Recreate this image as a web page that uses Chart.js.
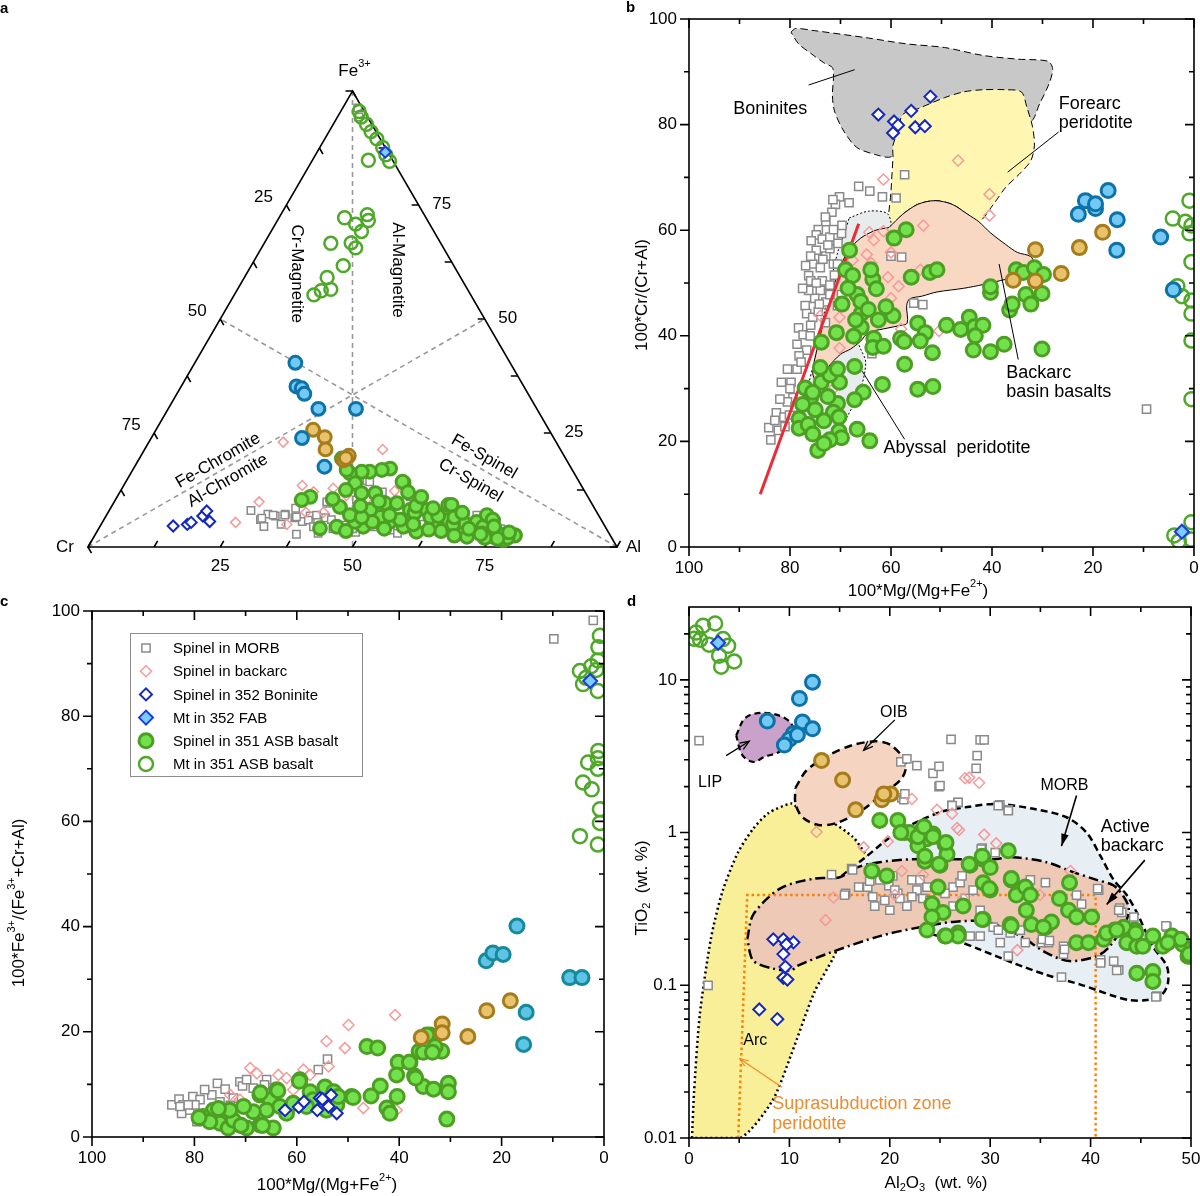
<!DOCTYPE html>
<html><head><meta charset="utf-8">
<script src="https://cdn.jsdelivr.net/npm/chart.js@4.4.1/dist/chart.umd.min.js"></script>
<style>
html,body{margin:0;padding:0;background:#fff;}
body{width:1200px;height:1196px;position:relative;overflow:hidden;font-family:'Liberation Sans',Arial,sans-serif;}
canvas{position:absolute;}
.pl{position:absolute;font-weight:bold;font-size:15px;line-height:15px;z-index:10;}
</style></head><body>
<canvas id="ca" width="660" height="600" style="left:0;top:0;z-index:1"></canvas>
<canvas id="cb" width="626" height="610" style="left:600px;top:-10px;z-index:2"></canvas>
<canvas id="cc" width="636" height="616" style="left:0;top:580px;z-index:3"></canvas>
<canvas id="cd" width="620" height="618" style="left:610px;top:578px;z-index:4"></canvas>
<div class="pl" style="left:0px;top:0px">a</div>
<div class="pl" style="left:626px;top:-1px">b</div>
<div class="pl" style="left:0px;top:593px">c</div>
<div class="pl" style="left:627px;top:593px">d</div>
<script>
// ---------------- DATA ----------------
// Panel a: ternary compositions [Fe3+, Al] in % (Cr = 100 - Fe3+ - Al)
const terMORB = [[96.3,2.85],[94.3,4.05],[8,26.8],[6,29.6],[7.2,30.4],[6.8,32],[7.2,33.7],[6.4,35.9],[5.6,37.7],[6.8,38.6],[5.6,40.6],[6.4,41.7],[9.6,40.4],[4,44.3],[3.2,49],[14.5,45.5],[12.1,49.6],[11.3,55.5],[4,59.1],[7.6,62.7],[6.8,70.4],[5.2,73.7],[5,70.9],[6.4,61.2],[4.8,53.3],[5.6,48.6],[4.8,46.4],[12.9,42.4],[6.3,29.7],[7,31.5],[7,33.7],[6.6,36.1],[5.9,38.7],[7,39.7],[9.9,40.2],[8.1,44.2],[10.3,45.6],[14.3,46.1],[4.45,51.7],[11,55.4],[5.2,62.1],[7.7,62.7],[7,70],[5.5,74.5],[3.7,55.3],[4.45,40.4],[6,57],[8,52],[9,58],[5,66],[6.5,68],[4,76],[3.5,63],[4.2,65],[6,64.5],[5,60.5],[3,57],[5.5,50],[4,48],[7.5,47],[3,42],[6,43],[2.8,38],[5,34],[4.5,31],[8.5,35]];
const terBackarc = [[23,25.4],[21.4,45],[13.5,33.75],[9.9,27.4],[5.4,25.2],[4.95,35.1],[12.9,39.9],[11.3,43.2],[12.3,51.8],[12.1,36.6],[7.6,40.7],[7.6,37.4],[9.25,48.9]];
const terBoninite = [[4.6,13.8],[4.95,16.3],[5.4,16.8],[6.8,18.3],[7.9,18.5],[5.6,20.2]];
const terFAB = [[86.6,12.9]];
const terASB = [[14.1,52.6],[17.2,48.5],[16.9,47.1],[16.5,45],[16.5,43.5],[16.2,41.4],[19.4,38.3],[14,43.5],[11.8,45.8],[11.8,48.4],[9.6,51.3],[9.6,53.6],[8.1,56.8],[8.1,60],[9.2,63.5],[5.9,64.9],[5.2,63.3],[5.5,70.7],[4.45,72.5],[2.25,75.5],[1.5,77.8],[2.6,79.4],[2.25,70.5],[7,71.9],[3.35,60.4],[5.5,54.3],[4.45,49.8],[4.45,44.8],[4.1,41.8],[8.8,43.2],[11,36.5],[10.3,35.25],[5.5,47.7],[6.6,51.9],[4.45,57.4],[5.5,68.2],[6.6,61.4],[8.1,49.3],[16.9,40.45],[9.25,64.1],[2.5,79.4],[2,78.3],[14.3,52.3],[12.5,42.5],[7,46],[3.5,65],[4,67],[6,73.5],[3,73],[2,74],[7.5,58],[10.5,41],[9,57.5],[3,76],[2.8,72.8],[4,70],[5,66.5],[6.5,66],[7.5,67],[3.8,62.5],[5,59],[6,56],[7,53.5],[4,54],[5.5,51],[6.5,48.5],[3.5,47],[9,47],[10,50],[12,54.5],[11,57.5],[2.5,68],[1.8,76.5],[3.2,78],[4.5,74.5],[6.8,62.8],[8.5,61]];
const terMt = [[94.3,4.5],[92.7,6.3],[91.1,7.95],[89.5,9.85],[87.6,11.9],[84.6,14.7],[84.8,10.6],[72.2,12.4],[70.8,15.2],[72.9,16.35],[71.6,17.2],[69.2,17.1],[66.7,16.4],[65.6,17.8],[66.6,12.6],[61.7,17.4],[59.1,15.65],[56.5,17.65],[56.2,16],[55.3,15.05],[95.5,3.5],[86,13.3]];
const terBlue = [[40.4,19],[35.2,21.8],[34.8,23],[33.6,24.1],[30.3,28.4],[30.3,35.5],[23.9,28.5],[17.6,35.9]];
const terGold = [[25.7,29.7],[24.1,32.7],[21.4,34.2],[20,39.3],[19,38.8],[19.5,39]];
const terTickLabels = ['25','50','75'];

// Panel b: [100*Mg/(Mg+Fe2+), 100*Cr/(Cr+Al)]
const bMORB = [[70.2,66.3],[71,64.9],[71.7,63.4],[72.9,61.6],[74.4,60.1],[74.8,59.1],[73.6,58.3],[72.1,58.7],[69.8,59.4],[69.7,60.9],[68.3,65.2],[66.4,68.3],[64.2,67.4],[61.7,66.3],[59,66.1],[57.3,70.5],[74.8,56.2],[72.9,55.1],[72.1,56.5],[75.5,53.6],[76.9,53.3],[74,52.9],[71.4,53.6],[76.3,51.4],[73.6,50.4],[75.9,50.4],[72.1,49.6],[74,48.6],[75.1,47.1],[72.9,46.4],[77,45.7],[76.7,44.2],[75.5,43.5],[74.4,44.6],[75.9,42],[78.3,41.5],[77.4,40.2],[78.6,38.4],[76.7,37.3],[78.2,36.2],[80.5,33.7],[78.6,33.7],[81.7,31.2],[79.8,31.2],[79.4,28.3],[82.7,25.4],[81.2,24.6],[84.2,22.6],[82.3,22.1],[83.8,20.3],[80.1,25],[80.5,27.5],[70.6,53.6],[69.8,47.8],[70.6,45.7],[60,55.1],[57.9,54.9],[55.5,46.2],[53.7,45.9],[63.8,36.6],[9.4,26.1],[72.1,47.8],[74.8,50],[76.3,48.6],[71.4,60.1],[72.5,57.2],[75.9,55.1],[73,62.5],[71.5,65.8],[75.8,58],[73.5,54.5],[77.5,49],[74.2,46],[71.2,51.5],[70.5,57.5],[76,40],[73,42.5],[77.8,35],[80,30],[82,28],[79,26.5],[81,22.8],[83,24]];
const bBackarc = [[61.5,69.6],[46.7,73.2],[40.5,66.8],[40.5,62.8],[53.6,60.9],[64.3,59.6],[63.4,58.1],[61.5,59.8],[60,55.8],[64.8,55.4],[63.9,53.8],[60.6,51.1],[58.5,49.4],[60,47.1],[54.2,52.5],[74,43.8],[70.2,43.5],[70.2,37.7],[50.5,40.9],[58,41.3],[71.7,29.7],[67.6,54.3],[63.2,50.4]];
const bBoninite = [[62.5,81.9],[59.4,80.6],[58.6,79.9],[59.6,78.4],[56,82.6],[55.2,79.5],[53.3,79.7],[52.2,85.3]];
const bFAB = [[2.4,2.9]];
const bASB = [[57,60.1],[59.4,58.5],[68.2,56.2],[69,52.5],[67.6,51.4],[63.6,50.7],[62.9,48.9],[66.7,47.8],[69.7,46],[65.9,44.2],[59.6,43.8],[56,51.1],[52.3,52],[50.9,52.5],[70.8,40.6],[73.8,38.8],[65.9,41.6],[67.4,39.9],[63.4,39.5],[63.6,37.8],[61.5,38],[58.1,39.5],[57.4,38.9],[54.7,42.4],[53.2,40.6],[54.2,39],[51.8,36.8],[49,42],[46.2,41.2],[44.5,43.5],[43.5,41.7],[41.8,42],[43.3,40],[43.7,37.3],[40.3,37],[37.6,38.4],[40.3,48.2],[40.3,49.3],[36.5,44.9],[36,46],[35.2,52.5],[33.8,52],[33.3,47.8],[32.3,46],[31.6,52.9],[30.1,48],[29.8,51.6],[30.1,37.5],[57.3,34.6],[61.7,30.8],[54.7,29.9],[51.7,30.4],[67.2,34.2],[65.5,29.3],[67.2,27.9],[70.2,31.2],[73.8,31.2],[72.1,32.6],[74,34],[70.6,33.7],[77,30.1],[75.9,28.3],[75.5,29.3],[70.6,27.2],[71.4,25.5],[78.2,24.3],[78.2,22.5],[76.4,23.2],[73.3,23.9],[70.3,24.6],[70.3,21.9],[69.8,20.7],[72.1,20.3],[74.5,18.3],[73.3,19.6],[66.7,22.3],[64.2,20.1],[75.5,21.4],[66,46.5],[64.5,45],[62.5,43],[67,43],[68.5,49],[64,52.5],[61,45.5],[75,26],[72.5,28.5],[77.5,27]];
const bMt = [[0.9,65.6],[4.2,62.2],[1.7,61.6],[0.5,60.9],[0.9,59.4],[0.5,54],[3.3,49.4],[2.4,47.5],[0.5,46.7],[0.5,44.2],[0.5,39.1],[0.5,28],[3.9,2.2],[0.5,4.7],[0.5,1.4],[3,1.1]];
const bBlue = [[22.9,63],[21.5,65.6],[19.5,64.1],[19.5,65],[17,67.5],[15.2,62],[15.3,56.2],[6.6,58.7],[4.1,48.7]];
const bGold = [[31.4,56.3],[35.8,50.5],[31.4,50.4],[26.3,51.8],[22.7,56.7],[18.1,59.6]];
const bRedLine = [[85.9,10],[75,38.5],[66.4,61.2]];
const bBoninitesField = [[79.8,97.5],[78.9,98.2],[75.2,97.8],[64.5,96.4],[57,95.3],[49.4,94.6],[41.8,93.1],[35,92.4],[28.9,92],[28,90.6],[28.6,88],[30.5,84.1],[32.7,80.4],[49.4,81.9],[58.5,76.1],[60,73.9],[63,74.3],[66.8,75.7],[69.5,79],[71.2,82.6],[71.6,85.5],[71.5,90.6],[73.3,91.7],[75.9,93.5],[78.3,95.3],[79.8,97.5]];
const bForearcField = [[59.6,73.9],[59.6,76.1],[58.5,79],[57.7,81.9],[54.7,83],[49.4,85.1],[45.6,86.2],[41.8,86.6],[37.3,86.6],[34.2,86.2],[33.1,83.3],[32,79.7],[31.6,76.1],[32.3,73.2],[34.2,71],[37.3,68.1],[39.5,65.2],[42.6,61.6],[44.8,63],[47.9,64.9],[51.3,65.6],[54.7,64.9],[57.7,63],[60.4,60.5],[60,67.4],[59.6,73.9]];
const bBackarcField = [[60.4,60.5],[57.7,63],[54.7,64.9],[51.3,65.6],[47.9,64.9],[44.8,63],[42.6,61.6],[40.3,59.5],[37.3,57.3],[35,55.8],[32.3,55],[31.8,53.5],[35,51.4],[37.3,50.7],[41.8,49.7],[45.6,49],[50.9,48.3],[53.9,47.5],[56.3,47],[56.9,45.7],[56.8,42.4],[58.5,41.9],[61.5,41.3],[64.5,40.6],[66,39],[68,37.5],[70,36.5],[72.5,34],[74.5,31],[75.5,33],[74.5,38],[73.5,42],[72,47],[70.5,52],[68.5,56],[66,58.5],[63,60],[60.4,60.5]];
const bAbyssalField = [[68.3,62.3],[64.5,63.6],[60.8,63.2],[60,60.9],[61.5,59],[64,57],[66,52],[67,46],[67,40],[66,37.5],[65,35],[66,30],[68.5,25],[71,21.5],[74,20],[76.5,20.5],[77.5,24],[76.5,30],[75,36],[73.5,43],[72,50],[70.5,56],[69,60],[68.3,62.3]];

// Panel c: [100*Mg/(Mg+Fe2+), 100*Fe3+/(Fe3++Cr+Al)]
const cMORB = [[84.4,6.1],[83,7.2],[82.2,6.1],[82.5,4.5],[80.9,5.1],[80.3,7.7],[78.9,7.1],[79.9,6.1],[76.6,8],[75.5,10.2],[74,9.1],[71.1,10.5],[70.6,9.7],[68.5,9.3],[65.9,10.9],[66.3,9.9],[55.8,12.8],[54,14.8],[75,6.7],[79.5,2.9],[72.4,7.4],[69.8,10.9],[82.8,5.8],[81.2,6.1],[2.1,98.2],[9.8,94.7],[77.5,4],[73,6],[78,9]];
const cBackarc = [[40.8,23.2],[49.9,21.3],[54.2,18.2],[50.6,16.9],[53.8,13.4],[47,5.5],[40.5,5.1],[69.1,13.1],[67.8,12.1],[63.6,11.8],[62,11.2],[58.7,12.8],[57.4,11.8],[73,8],[71.1,7.1],[60.7,9]];
const cBoninite = [[62.3,5.1],[59.6,5.7],[58.6,6.7],[56,5.1],[55.5,7.4],[55,7.2],[53.8,5.8],[53.3,8],[52.2,4.5]];
const cFAB = [[2.7,86.7]];
const cASB = [[46.3,17.2],[44.2,16.9],[40.2,14.2],[37.9,14.2],[36.1,16.3],[34,19.4],[31.7,16.3],[33,17.2],[40.5,11.8],[37,11.6],[35.3,9.6],[33.3,9.1],[30.4,10.2],[30.4,8.6],[30.7,3.4],[43.7,9.7],[45.5,7.8],[40.4,7.7],[42.4,5.5],[41.8,4.5],[49.3,7.7],[52.2,6.1],[59.4,10.9],[57.4,8.6],[54.5,9.5],[52.8,8.6],[51.9,7.7],[56.8,7.1],[54.2,5.1],[63.9,9],[67.2,8],[65.2,7.1],[62,4.5],[65.9,5.1],[63.3,5.8],[67.2,2.3],[64.6,1.7],[71.1,2.3],[73.7,4.8],[76.3,5.1],[78.3,3.9],[78.9,3.6],[75,2.6],[73.4,1.7],[69.8,1.7],[68.5,4.8],[70.4,5.8],[72.4,3.2],[77,2.9],[60.7,6.4],[58.1,5.8],[34.6,19.4],[35.3,16.1],[33.5,16.1],[36.8,11.2],[38,14.2],[59.5,10.6],[63.7,8.8],[67.1,8.4],[73.1,5.1],[70.9,2.2],[66.7,2.2],[75.3,5.4],[79.1,3.7],[49,7.5]];
const cMt = [[0.8,95.3],[1.1,93.1],[1.2,90.6],[1.5,88.8],[4.7,88.6],[4.1,86.1],[1.2,84.8],[1.1,73.4],[1.2,72],[3.1,71.2],[1.2,70],[4.1,67.4],[2.4,66.1],[0.8,62.3],[0.8,59.7],[4.7,57.2],[1.2,55.6],[2.5,89.5],[3.5,87.3]];
const cBlue = [[17,40.1],[23,33.5],[21.7,35],[19.7,34.7],[15.2,23.7],[15.7,17.6],[6.7,30.3],[4.3,30.3]];
const cGold = [[35.7,18.9],[31.6,21.5],[31.6,19.8],[26.6,19.1],[22.9,24],[18.3,25.9]];
const legendLabels = ['Spinel in MORB','Spinel in backarc','Spinel in 352 Boninite','Mt in 352 FAB','Spinel in 351 ASB basalt','Mt in 351 ASB basalt'];

// Panel d: [Al2O3 wt.%, TiO2 wt.%]
const dMORB = [[1,4.0],[1.9,0.1],[21.1,2.9],[21.7,3.04],[22.7,2.74],[24.3,2.44],[24.9,2.71],[24.9,2.0],[26.1,4.08],[28.7,3.19],[28.6,2.63],[29,4.04],[29.4,4.04],[21.2,1.69],[21.4,1.64],[26.2,1.51],[26.8,1.57],[30.96,1.52],[31.8,1.41],[29.2,0.79],[14.2,0.53],[15.6,0.40],[16.2,0.58],[16.9,0.44],[17.8,0.44],[18.3,0.38],[18.5,0.33],[19,0.49],[19.9,0.45],[20.3,0.52],[20.8,0.40],[21.7,0.33],[22.2,0.49],[22.7,0.42],[22.2,0.38],[23.3,0.37],[23,0.49],[23.7,0.44],[26.3,0.44],[27,0.47],[27.2,0.52],[28.3,0.42],[27.5,0.37],[29,0.21],[28,0.21],[31,0.19],[32,0.22],[33.5,0.19],[35.1,0.19],[35.8,0.19],[37.3,0.18],[37.3,0.16],[35.5,0.47],[38.6,0.39],[39.1,0.34],[40.8,0.42],[41,0.147],[42.3,0.144],[42.8,0.126],[42.9,0.32],[44.3,0.28],[43.1,0.30],[47.6,0.24],[46.6,0.085],[37.1,0.113],[31.8,0.155],[30.8,1.5],[31.8,1.39],[26.8,1.58],[26.2,1.5],[25,2.03],[21.5,1.79],[29.1,0.78],[30.5,0.74],[34,0.49],[26.3,0.33],[21,0.37],[20,0.31],[29,0.31],[30.3,0.24],[30.8,0.23],[33,0.23],[15.5,0.39],[16.3,0.57],[46.5,0.084],[47.5,0.245],[40.7,0.43],[37.4,0.172],[42.8,0.31],[41,0.14],[42.6,0.125],[35.2,0.2],[35.9,0.196],[19.5,0.36],[20.5,0.42],[24,0.36],[25.5,0.4],[18,0.48]];
const dBackarc = [[12.7,1.01],[17.4,0.80],[19.8,0.875],[22.2,1.66],[24.7,1.41],[26.2,1.33],[26.7,1.07],[26.9,1.04],[27.5,2.27],[28.9,2.12],[27.9,2.29],[29.4,0.97],[30.6,0.85],[14.4,0.376],[13.6,0.267],[20.5,0.39],[23.3,0.53],[21.2,0.56],[27.3,0.37],[34.95,0.39],[38,0.56],[32.7,0.17]];
const dBoninite = [[8.4,0.2],[9.4,0.2],[10.4,0.191],[9.7,0.185],[9.4,0.16],[9.6,0.132],[9.4,0.112],[9.8,0.109],[7,0.0695],[8.8,0.06]];
const dFAB = [[2.9,17.5]];
const dASB = [[19,1.2],[20.8,1.2],[21.5,1.0],[22.5,0.95],[23.3,1.06],[24.3,0.98],[23.7,0.91],[25.5,0.84],[25.7,0.72],[23.5,0.65],[25,0.61],[22,1.0],[22.8,0.82],[31.8,0.76],[28,0.61],[29.3,0.67],[30,0.59],[29.3,0.47],[30,0.42],[32.1,0.49],[32.6,0.39],[33.5,0.44],[33.6,0.31],[32,0.25],[34.1,0.25],[35.5,0.24],[36.1,0.26],[29.3,0.27],[27.3,0.33],[25.3,0.30],[24.2,0.34],[24.2,0.28],[23.7,0.23],[25.5,0.21],[26.8,0.22],[24.8,0.44],[18.2,0.56],[19.7,0.52],[37.9,0.47],[36.9,0.37],[37.8,0.31],[38.6,0.28],[40.1,0.28],[38.6,0.19],[39.8,0.19],[41.3,0.20],[42.4,0.23],[43.6,0.19],[44.4,0.23],[44.6,0.18],[46.2,0.21],[47.2,0.18],[48.1,0.21],[49.2,0.185],[49.7,0.155],[44.6,0.12],[46.2,0.123],[46.2,0.106],[43.3,0.24],[21.1,1.0],[22.8,0.94],[23.4,1.09],[24.3,0.94],[25.6,0.86],[23.5,0.70],[24.9,0.62],[27.9,0.62],[29.2,0.70],[29.9,0.43],[32.1,0.5],[29.2,0.27],[32.1,0.245],[34,0.39],[35.3,0.24],[41.6,0.22],[42.6,0.23],[44.5,0.22],[45.2,0.18],[49.8,0.16],[49,0.2],[47.7,0.19],[26.8,0.21],[25.6,0.21]];
const dMt = [[0.7,20.4],[1.4,22.6],[2.6,23.4],[1.1,18.3],[2,17],[3.4,18.5],[3.9,16.7],[3,14.4],[4.5,13.2],[3.2,12.2],[0.5,18.6]];
const dBlue = [[7.8,5.37],[12.3,9.66],[11,7.55],[11.3,5.3],[12.3,4.78],[10.4,4.45],[10,4.08],[9.5,3.74],[10.8,4.37]];
const dGold = [[13.2,2.96],[15.3,2.21],[16.6,1.41],[19.2,1.64],[20.1,1.79],[19.4,1.79]];
const dArcField = [[0.3,0.01],[0.5,0.0197],[1.07,0.0637],[2.2,0.205],[3.35,0.415],[4.9,0.746],[6.4,1.06],[7.9,1.34],[10.2,1.55],[11,1.42],[14,1.19],[16.3,0.94],[17.8,0.70],[18.6,0.66],[15.5,0.231],[14.4,0.153],[12.5,0.0905],[10.2,0.0355],[8.3,0.0175],[5.1,0.01],[0.3,0.01]];
const dMORBField = [[15.2,0.52],[17.7,0.70],[20.7,1.0],[25,1.36],[27.7,1.47],[30.6,1.54],[34.3,1.43],[37.6,1.26],[39.6,1.0],[41,0.70],[42.3,0.49],[43.6,0.39],[44.6,0.30],[46.2,0.18],[47.6,0.133],[47.7,0.103],[47.1,0.087],[45.6,0.080],[43.9,0.080],[42.3,0.085],[40.6,0.093],[39,0.101],[35.6,0.117],[32.3,0.14],[29,0.171],[26.3,0.2],[24,0.22],[19,0.38],[15.2,0.52]];
const dActiveField = [[5.8,0.2],[6.4,0.29],[9.06,0.43],[12.5,0.50],[15,0.51],[16.7,0.59],[19,0.64],[22.3,0.67],[25.7,0.67],[30.3,0.67],[32.3,0.69],[35.6,0.64],[38.3,0.55],[40.6,0.49],[42.3,0.45],[43.3,0.38],[43.8,0.32],[43.5,0.26],[41.9,0.18],[40.6,0.155],[37.9,0.144],[35.6,0.163],[33,0.21],[29.6,0.26],[26.3,0.26],[23,0.24],[19,0.21],[14,0.163],[10.7,0.133],[10.2,0.125],[8.3,0.129],[6.4,0.145],[5.8,0.2]];
const dOIBField = [[10.6,1.96],[11.7,2.55],[14,3.23],[16.3,3.74],[18.6,3.96],[20.1,3.74],[21.6,2.87],[21.2,2.27],[19.3,1.79],[17.1,1.38],[14.8,1.16],[12.9,1.12],[11.3,1.26],[10.6,1.55],[10.6,1.96]];
const dLIPField = [[4.7,4.33],[5.6,5.63],[7.2,6.08],[9.1,5.8],[10.2,5.15],[10.3,4.3],[9.1,3.42],[7.5,3.13],[6.4,2.9],[5.3,3.23],[4.7,4.33]];
const dSSZ = [[4.9,0.01],[5.8,0.39],[40.5,0.39],[40.5,0.01]];

// Axis ticks
const mgTicks = [0,20,40,60,80,100], mgMinor = [10,30,50,70,90];
const pctTicks = [0,20,40,60,80,100], pctMinor = [10,30,50,70,90];
const alTicks = [0,10,20,30,40,50], alMinor = [5,15,25,35,45];
const tiTicks = [0.01,0.1,1,10], tiMinor = [0.02,0.03,0.04,0.05,0.06,0.07,0.08,0.09,0.2,0.3,0.4,0.5,0.6,0.7,0.8,0.9,2,3,4,5,6,7,8,9,20];

// ---------------- STYLE ----------------
const FAM = "'Liberation Sans', Arial, sans-serif";
Chart.defaults.font.family = FAM;
Chart.defaults.font.size = 17;
Chart.defaults.color = '#000';
Chart.defaults.animation = false;
Chart.defaults.plugins.legend.display = false;
Chart.defaults.plugins.tooltip.enabled = false;
Chart.defaults.events = [];

const ST = {
  morb: {ps:'rect', r:5.8, bw:1.5, bc:'#8a8a8a', fc:'#ffffff'},
  backarc: {ps:'rectRot', r:5.5, bw:1.5, bc:'#f49a9a', fc:'rgba(255,255,255,0)'},
  bon: {ps:'rectRot', r:6, bw:2, bc:'#1428c0', fc:'#ffffff'},
  fab: {ps:'rectRot', r:7, bw:2, bc:'#1a3ae0', fc:'#7bcdff'},
  asb: {ps:'circle', r:7, bw:3, bc:'#4c9f22', fc:'#72e14b'},
  mt: {ps:'circle', r:7, bw:2.5, bc:'#50a82a', fc:'rgba(255,255,255,0)'},
  blue: {ps:'circle', r:7, bw:3, bc:'#0d72a8', fc:'#72c9f4'},
  blueC: {ps:'circle', r:7, bw:3, bc:'#168a9c', fc:'#5ec4e6'},
  gold: {ps:'circle', r:7, bw:3, bc:'#a57c1c', fc:'#e9c26c'}
};
const legendStyles = [ST.morb, ST.backarc, ST.bon, ST.fab, ST.asb, ST.mt];

const S3 = Math.sqrt(3) / 2;
const toTer = ([fe, al]) => ({x: al + fe / 2, y: fe * S3});
const toXY = ([x, y]) => ({x, y});

function ptsDS(arr, st, map, scale) {
  const k = scale || 1;
  return {type:'scatter', data: arr.map(map || toXY), showLine:false,
    pointStyle: st.ps, pointRadius: st.r * k, pointBorderWidth: st.bw,
    pointBorderColor: st.bc, pointBackgroundColor: st.fc, clip: map === toTer ? false : 0};
}
function fieldDS(arr, fillC, lineC, dash, bw, tension) {
  return {type:'line', data: arr.map(toXY), fill: fillC ? 'shape' : false,
    backgroundColor: fillC || 'rgba(0,0,0,0)', borderColor: lineC, borderWidth: bw,
    borderDash: dash, pointRadius: 0, tension: tension, clip: 0, spanGaps: true};
}
function ordered(list) { const n = list.length; list.forEach((d, i) => d.order = n - i); return list; }

function rich(ctx, parts, x, y, rot, size, align, color) {
  size = size || 17;
  ctx.save();
  ctx.translate(x, y);
  if (rot) ctx.rotate(rot);
  ctx.textBaseline = 'middle'; ctx.textAlign = 'left';
  ctx.fillStyle = color || '#000';
  const fs = m => (m ? Math.round(size * 0.66) : size) + 'px ' + FAM;
  const ws = parts.map(([t, m]) => { ctx.font = fs(m); return ctx.measureText(t).width; });
  const total = ws.reduce((a, b) => a + b, 0);
  let cx = align === 'left' ? 0 : align === 'right' ? -total : -total / 2;
  parts.forEach(([t, m], i) => {
    ctx.font = fs(m);
    const dy = m === 'sup' ? -size * 0.4 : m === 'sub' ? size * 0.32 : 0;
    ctx.fillText(t, cx, dy); cx += ws[i];
  });
  ctx.restore();
}
function txt(ctx, s, x, y, size, align, color, rot) { rich(ctx, [[s, '']], x, y, rot || 0, size, align, color); }
function line(ctx, x1, y1, x2, y2) { ctx.beginPath(); ctx.moveTo(x1, y1); ctx.lineTo(x2, y2); ctx.stroke(); }
function arrow(ctx, x1, y1, x2, y2, filled, L, w) {
  L = L || 11; w = w || 0.38;
  line(ctx, x1, y1, x2, y2);
  const a = Math.atan2(y2 - y1, x2 - x1);
  ctx.beginPath();
  ctx.moveTo(x2 - L * Math.cos(a - w), y2 - L * Math.sin(a - w));
  ctx.lineTo(x2, y2);
  ctx.lineTo(x2 - L * Math.cos(a + w), y2 - L * Math.sin(a + w));
  if (filled) { ctx.closePath(); ctx.fill(); } else ctx.stroke();
}
function drawMarker(ctx, st, x, y) {
  ctx.save(); ctx.lineWidth = st.bw; ctx.strokeStyle = st.bc; ctx.fillStyle = st.fc;
  ctx.beginPath();
  const r = st.r;
  if (st.ps === 'circle') ctx.arc(x, y, r, 0, Math.PI * 2);
  else if (st.ps === 'rect') { const s = r * Math.SQRT1_2; ctx.rect(x - s, y - s, 2 * s, 2 * s); }
  else { ctx.moveTo(x - r, y); ctx.lineTo(x, y - r); ctx.lineTo(x + r, y); ctx.lineTo(x, y + r); ctx.closePath(); }
  ctx.fill(); ctx.stroke(); ctx.restore();
}

function framePlugin(tk) {
  return {id:'frameTicks', afterDatasetsDraw(chart) {
    const ctx = chart.ctx, a = chart.chartArea, sx = chart.scales.x, sy = chart.scales.y;
    ctx.save(); ctx.strokeStyle = '#000'; ctx.lineWidth = 1.6; ctx.setLineDash([]);
    ctx.strokeRect(a.left, a.top, a.right - a.left, a.bottom - a.top);
    ctx.beginPath();
    const xt = (vals, L) => vals.forEach(v => { const p = sx.getPixelForValue(v);
      ctx.moveTo(p, a.bottom); ctx.lineTo(p, a.bottom + L); ctx.moveTo(p, a.top); ctx.lineTo(p, a.top + L); });
    const yt = (vals, L) => vals.forEach(v => { const p = sy.getPixelForValue(v);
      ctx.moveTo(a.left - L, p); ctx.lineTo(a.left, p); ctx.moveTo(a.right - L, p); ctx.lineTo(a.right, p); });
    xt(tk.xMajor, 9); xt(tk.xMinor, 5); yt(tk.yMajor, 9); yt(tk.yMinor, 5);
    ctx.stroke(); ctx.restore();
  }};
}
function annotPlugin(fn) {
  return {id:'annot', afterDatasetsDraw(chart) {
    const ctx = chart.ctx, sx = chart.scales.x, sy = chart.scales.y;
    const X = v => sx.getPixelForValue(v), Y = v => sy.getPixelForValue(v);
    ctx.save(); ctx.strokeStyle = '#000'; ctx.fillStyle = '#000'; ctx.lineWidth = 1;
    fn(ctx, X, Y, chart.chartArea);
    ctx.restore();
  }};
}
function axisOpts(ticksArr, fixed, isX, extra) {
  return Object.assign({
    type:'linear', min: ticksArr[0], max: ticksArr[ticksArr.length - 1],
    afterBuildTicks: s => { s.ticks = ticksArr.map(v => ({value: v})); },
    ticks: {callback: v => String(v), padding: isX ? 11 : 12, maxRotation: 0, autoSkip: false, font: {size: 17}},
    grid: {display:false, drawTicks:false}, border: {display:false},
    afterFit: s => { if (isX) s.height = fixed; else s.width = fixed; }
  }, extra || {});
}

// ---------------- PANEL A (ternary) ----------------
new Chart(document.getElementById('ca'), {
  type:'scatter',
  data: {datasets: ordered([
    ptsDS(terMORB, ST.morb, toTer, 0.9),
    ptsDS(terBackarc, ST.backarc, toTer, 0.9),
    ptsDS(terASB, ST.asb, toTer, 0.92),
    ptsDS(terMt, ST.mt, toTer, 0.92),
    ptsDS(terBoninite, ST.bon, toTer, 0.92),
    ptsDS(terFAB, ST.fab, toTer, 0.8),
    ptsDS(terGold, ST.gold, toTer, 0.92),
    ptsDS(terBlue, ST.blue, toTer, 0.92)
  ])},
  options: {responsive:false, devicePixelRatio:1,
    layout: {padding: {left:88, right:43, top:91, bottom:53}},
    scales: {x: {type:'linear', min:0, max:100, display:false}, y: {type:'linear', min:0, max:100 * S3, display:false}}},
  plugins: [{id:'ternary', beforeDatasetsDraw(chart) {
    const ctx = chart.ctx, sx = chart.scales.x, sy = chart.scales.y;
    const P = (x, y) => [sx.getPixelForValue(x), sy.getPixelForValue(y)];
    const Cr = P(0, 0), Al = P(100, 0), Fe = P(50, 100 * S3);
    ctx.save();
    ctx.strokeStyle = '#999'; ctx.lineWidth = 1.6; ctx.setLineDash([5, 4]);
    let m = P(50, 0); line(ctx, Fe[0], Fe[1], m[0], m[1]);
    m = P(75, 50 * S3); line(ctx, Cr[0], Cr[1], m[0], m[1]);
    m = P(25, 50 * S3); line(ctx, Al[0], Al[1], m[0], m[1]);
    ctx.setLineDash([]);
    ctx.strokeStyle = '#000'; ctx.lineWidth = 1.6;
    ctx.beginPath(); ctx.moveTo(...Cr); ctx.lineTo(...Al); ctx.lineTo(...Fe); ctx.closePath(); ctx.stroke();
    const L = 7;
    ctx.beginPath();
    for (let k = 0; k <= 8; k++) {
      const f = k / 8;
      let p = [Cr[0] + f * (Al[0] - Cr[0]), Cr[1]];
      ctx.moveTo(p[0], p[1]); ctx.lineTo(p[0] + L * 0.5, p[1] - L * S3);
      p = [Al[0] + f * (Fe[0] - Al[0]), Al[1] + f * (Fe[1] - Al[1])];
      ctx.moveTo(p[0], p[1]); ctx.lineTo(p[0] - L, p[1]);
      p = [Fe[0] + f * (Cr[0] - Fe[0]), Fe[1] + f * (Cr[1] - Fe[1])];
      ctx.moveTo(p[0], p[1]); ctx.lineTo(p[0] + L * 0.5, p[1] + L * S3);
    }
    ctx.stroke();
    terTickLabels.forEach((s, i) => {
      const f = (i + 1) / 4;
      txt(ctx, s, Cr[0] + f * (Al[0] - Cr[0]), Cr[1] + 19, 17);
      txt(ctx, s, Fe[0] + f * (Cr[0] - Fe[0]) - 23, Fe[1] + f * (Cr[1] - Fe[1]) - 8, 17);
      const g = 1 - f;
      txt(ctx, s, Fe[0] + g * (Al[0] - Fe[0]) + 23, Fe[1] + g * (Al[1] - Fe[1]) - 1, 17);
    });
    rich(ctx, [['Fe', ''], ['3+', 'sup']], Fe[0] + 2, Fe[1] - 20, 0, 17);
    txt(ctx, 'Cr', Cr[0] - 14, Cr[1], 17, 'right');
    txt(ctx, 'Al', Al[0] + 9, Al[1], 17, 'left');
    let q = P(39.4, 51.9); txt(ctx, 'Cr-Magnetite', q[0], q[1], 17, 'center', '#000', Math.PI / 2);
    q = P(58.6, 52.6); txt(ctx, 'Al-Magnetite', q[0], q[1], 17, 'center', '#000', Math.PI / 2);
    q = P(24.6, 16.4); txt(ctx, 'Fe-Chromite', q[0], q[1], 17, 'center', '#000', -Math.PI / 6);
    q = P(26.4, 12.6); txt(ctx, 'Al-Chromite', q[0], q[1], 17, 'center', '#000', -Math.PI / 6);
    q = P(74.9, 17.1); txt(ctx, 'Fe-Spinel', q[0], q[1], 17, 'center', '#000', Math.PI / 6);
    q = P(72.3, 12.6); txt(ctx, 'Cr-Spinel', q[0], q[1], 17, 'center', '#000', Math.PI / 6);
    ctx.restore();
  }}]
});

// ---------------- PANEL B ----------------
new Chart(document.getElementById('cb'), {
  type:'scatter',
  data: {datasets: ordered([
    fieldDS(bBoninitesField, '#c8c8c8', '#000', [7, 4], 1, 0.3),
    fieldDS(bForearcField, '#fff6b2', '#000', [7, 4], 1, 0.3),
    fieldDS(bAbyssalField, '#e8ecec', '#000', [2, 2], 1, 0.3),
    fieldDS(bBackarcField, '#f8d7c3', '#000', [], 1, 0.3),
    ptsDS(bMORB, ST.morb),
    ptsDS(bBackarc, ST.backarc),
    fieldDS(bRedLine, null, '#ec2b36', [], 3, 0.3),
    ptsDS(bASB, ST.asb),
    ptsDS(bMt, ST.mt),
    ptsDS(bBoninite, ST.bon),
    ptsDS(bFAB, ST.fab),
    ptsDS(bGold, ST.gold),
    ptsDS(bBlue, ST.blue)
  ])},
  options: {responsive:false, devicePixelRatio:1,
    layout: {padding: {left:0, right:32, top:29, bottom:0}},
    scales: {x: axisOpts(mgTicks, 53, true, {reverse:true}), y: axisOpts(pctTicks, 89, false)}},
  plugins: [annotPlugin((ctx, X, Y, a) => {
    txt(ctx, 'Boninites', X(83.9), Y(83.0), 18);
    line(ctx, X(76.3), Y(87.5), X(67.2), Y(90.4));
    txt(ctx, 'Forearc', X(26.8), Y(83.9), 18, 'left');
    txt(ctx, 'peridotite', X(26.8), Y(80.3), 18, 'left');
    line(ctx, X(26.8), Y(78.6), X(36.9), Y(71));
    txt(ctx, 'Backarc', X(37.2), Y(33), 18, 'left');
    txt(ctx, 'basin basalts', X(37.2), Y(29.3), 18, 'left');
    line(ctx, X(38.6), Y(53.6), X(34.8), Y(35.5));
    txt(ctx, 'Abyssal  peridotite', X(61.5), Y(18.7), 18, 'left');
    line(ctx, X(65.7), Y(33.3), X(57.3), Y(20.4));
    rich(ctx, [['100*Mg/(Mg+Fe', ''], ['2+', 'sup'], [')', '']], a.left + 229, a.bottom + 44, 0, 17);
    rich(ctx, [['100*Cr/(Cr+Al)', '']], a.left - 47, a.top + 276, -Math.PI / 2, 17);
  }), framePlugin({xMajor: mgTicks, xMinor: mgMinor, yMajor: pctTicks, yMinor: pctMinor})]
});

// ---------------- PANEL C ----------------
new Chart(document.getElementById('cc'), {
  type:'scatter',
  data: {datasets: ordered([
    ptsDS(cMORB, ST.morb),
    ptsDS(cBackarc, ST.backarc),
    ptsDS(cASB, ST.asb),
    ptsDS(cMt, ST.mt),
    ptsDS(cBoninite, ST.bon),
    ptsDS(cFAB, ST.fab),
    ptsDS(cGold, ST.gold),
    ptsDS(cBlue, ST.blueC)
  ])},
  options: {responsive:false, devicePixelRatio:1,
    layout: {padding: {left:0, right:32, top:31, bottom:0}},
    scales: {x: axisOpts(mgTicks, 59, true, {reverse:true}), y: axisOpts(pctTicks, 92, false)}},
  plugins: [annotPlugin((ctx, X, Y, a) => {
    const lx = a.left + 38, ly = a.top + 22, lw = 232, lh = 143;
    ctx.fillStyle = '#fff'; ctx.fillRect(lx, ly, lw, lh);
    ctx.strokeStyle = '#8c8c8c'; ctx.lineWidth = 1; ctx.strokeRect(lx + 0.5, ly + 0.5, lw, lh);
    legendLabels.forEach((s, i) => {
      const yy = ly + 15 + i * 23.2;
      drawMarker(ctx, legendStyles[i], lx + 16, yy);
      txt(ctx, s, lx + 43, yy + 1, 15, 'left');
    });
    rich(ctx, [['100*Mg/(Mg+Fe', ''], ['2+', 'sup'], [')', '']], a.left + 235, a.bottom + 48, 0, 17);
    rich(ctx, [['100*Fe', ''], ['3+', 'sup'], ['/(Fe', ''], ['3+', 'sup'], ['+Cr+Al)', '']], a.left - 73, a.top + 292, -Math.PI / 2, 17);
  }), framePlugin({xMajor: mgTicks, xMinor: mgMinor, yMajor: pctTicks, yMinor: pctMinor})]
});

// ---------------- PANEL D ----------------
new Chart(document.getElementById('cd'), {
  type:'scatter',
  data: {datasets: ordered([
    fieldDS(dArcField, '#f8ef98', '#000', [2, 3], 2.5, 0.25),
    fieldDS(dMORBField, '#e7eef4', '#000', [7, 4], 2.5, 0.3),
    fieldDS(dActiveField, '#edc9b6', '#000', [10, 4, 2, 4], 2.5, 0.3),
    fieldDS(dOIBField, '#f6d4c2', '#000', [8, 5], 2.5, 0.3),
    fieldDS(dLIPField, '#c9a1cb', '#000', [6, 4], 2.2, 0.35),
    fieldDS(dSSZ, null, '#ff8000', [2.5, 3], 2.5, 0),
    ptsDS(dMORB, ST.morb),
    ptsDS(dBackarc, ST.backarc),
    ptsDS(dASB, ST.asb),
    ptsDS(dMt, ST.mt),
    ptsDS(dBoninite, ST.bon),
    ptsDS(dFAB, ST.fab),
    ptsDS(dGold, ST.gold),
    ptsDS(dBlue, ST.blue)
  ])},
  options: {responsive:false, devicePixelRatio:1,
    layout: {padding: {left:0, right:39, top:29, bottom:0}},
    scales: {x: axisOpts(alTicks, 58, true),
      y: axisOpts(tiTicks, 79, false, {type:'logarithmic', min:0.01, max:30})}},
  plugins: [annotPlugin((ctx, X, Y, a) => {
    ctx.lineWidth = 1.3;
    txt(ctx, 'LIP', X(2.1), Y(2.14), 16);
    arrow(ctx, X(3.7), Y(3.19), X(6), Y(3.96), false, 10);
    txt(ctx, 'OIB', X(20.4), Y(6.15), 16);
    arrow(ctx, X(20.5), Y(5.47), X(17.4), Y(3.46), false, 10);
    ctx.lineWidth = 1.6;
    txt(ctx, 'MORB', X(37.4), Y(2.04), 16);
    arrow(ctx, X(38.6), Y(1.75), X(37.1), Y(0.815), true, 13, 0.3);
    txt(ctx, 'Active', X(41), Y(1.09), 18, 'left');
    txt(ctx, 'backarc', X(41), Y(0.815), 18, 'left');
    arrow(ctx, X(45.4), Y(0.66), X(41.6), Y(0.338), true, 13, 0.3);
    txt(ctx, 'Arc', X(6.6), Y(0.0435), 16);
    ctx.strokeStyle = '#f08a2a'; ctx.lineWidth = 1.2;
    arrow(ctx, X(9.25), Y(0.0215), X(5.06), Y(0.033), false, 9);
    txt(ctx, 'Suprasubduction zone', X(8.3), Y(0.0166), 18, 'left', '#f08a2a');
    txt(ctx, 'peridotite', X(8.3), Y(0.0124), 18, 'left', '#f08a2a');
    rich(ctx, [['Al', ''], ['2', 'sub'], ['O', ''], ['3', 'sub'], ['  (wt. %)', '']], a.left + 247, a.bottom + 45, 0, 17);
    rich(ctx, [['TiO', ''], ['2', 'sub'], ['  (wt. %)', '']], a.left - 47, a.top + 281, -Math.PI / 2, 17);
  }), framePlugin({xMajor: alTicks, xMinor: alMinor, yMajor: tiTicks, yMinor: tiMinor})]
});
</script>
</body></html>
